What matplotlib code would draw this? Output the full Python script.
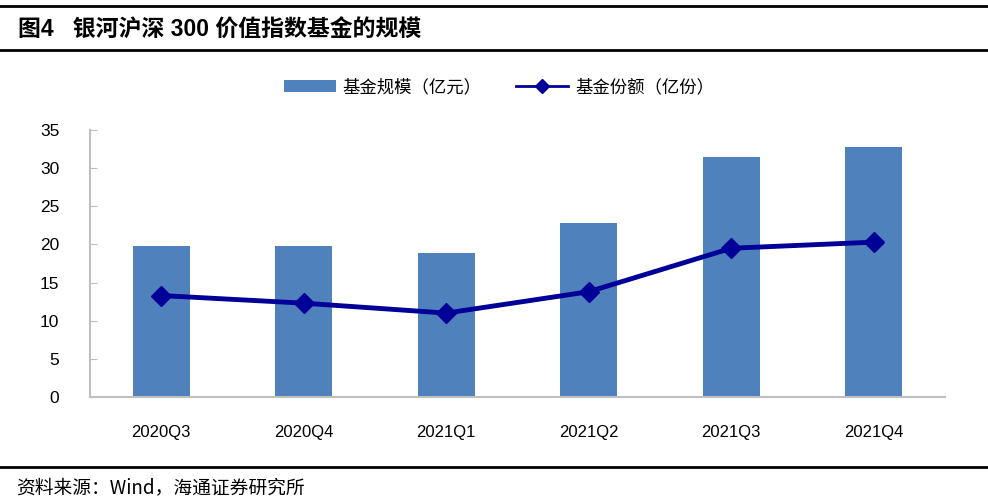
import matplotlib

matplotlib.use("Agg")

import matplotlib.pyplot as plt
from matplotlib.lines import Line2D
from matplotlib.patches import Patch

plt.rcParams["font.family"] = ["Liberation Sans", "Noto Sans CJK SC", "DejaVu Sans"]

quarters = ["2020Q3", "2020Q4", "2021Q1", "2021Q2", "2021Q3", "2021Q4"]
fund_size = [19.8, 19.8, 18.9, 22.8, 31.4, 32.8]      # 基金规模（亿元）
fund_shares = [13.3, 12.3, 11.0, 13.8, 19.5, 20.3]    # 基金份额（亿份）
y_ticks = [0, 5, 10, 15, 20, 25, 30, 35]

BAR_COLOR = "#4f81bd"
LINE_COLOR = "#000099"
CJK = ["Noto Sans CJK SC", "DejaVu Sans"]

fig = plt.figure(figsize=(9.88, 5.04), dpi=100)
ax = fig.add_axes([90 / 988, 1 - 397 / 504, 855 / 988, 267 / 504])

x = range(len(quarters))
ax.bar(x, fund_size, width=0.4, color=BAR_COLOR, zorder=2)
ax.plot(x, fund_shares, color=LINE_COLOR, lw=3.5, marker="D", ms=10, zorder=3)

ax.set_xlim(-0.5, len(quarters) - 0.5)
ax.set_ylim(0, 35)
ax.set_yticks(y_ticks)
ax.set_xticks(list(x))
ax.set_xticklabels(quarters)
ax.tick_params(axis="y", direction="in", length=5, color="#bfbfbf", labelsize=12.5, pad=22)
ax.tick_params(axis="x", length=0, labelsize=12, pad=20)
for side in ("top", "right"):
    ax.spines[side].set_visible(False)
for side in ("left", "bottom"):
    ax.spines[side].set_color("#bfbfbf")
    ax.spines[side].set_linewidth(1.5)

handles = [
    Patch(facecolor=BAR_COLOR, label="基金规模（亿元）"),
    Line2D([], [], color=LINE_COLOR, lw=2, marker="D", ms=7, label="基金份额（亿份）"),
]
fig.legend(handles=handles, loc="center", bbox_to_anchor=(499 / 988, 1 - 87 / 504),
           ncol=2, frameon=False, prop={"family": CJK, "size": 12.5},
           handlelength=3.0, columnspacing=2.0, handletextpad=0.4)

# title block with rules
fig.add_artist(Line2D([0, 1], [1 - 6 / 504] * 2, color="black", lw=2))
fig.add_artist(Line2D([0, 1], [1 - 50 / 504] * 2, color="black", lw=2))
fig.text(18 / 988, 1 - 30 / 504, "图4   银河沪深 300 价值指数基金的规模",
         family=["Liberation Sans", "Noto Sans CJK SC"], fontsize=16.5,
         fontweight="bold", va="center", ha="left")

fig.add_artist(Line2D([0, 1], [1 - 467 / 504] * 2, color="black", lw=2))
fig.text(16 / 988, 1 - 488 / 504, "资料来源：Wind，海通证券研究所",
         family=["Noto Sans CJK SC", "DejaVu Sans"], fontsize=13.5,
         va="center", ha="left")

fig.savefig("out.png", dpi=100)
